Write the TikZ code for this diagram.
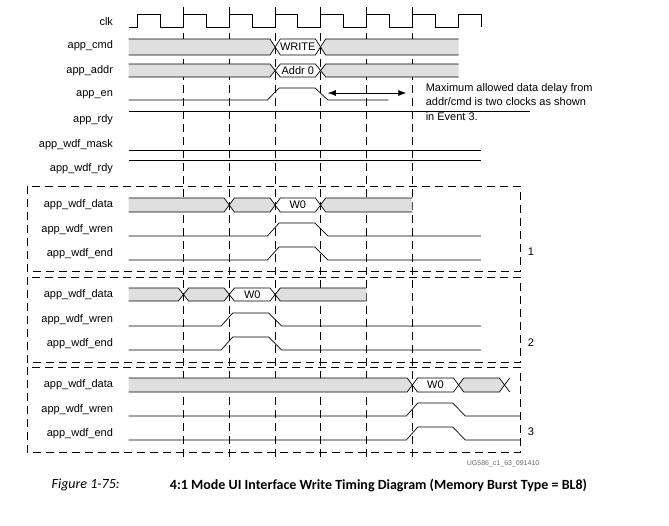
\documentclass[tikz,border=0pt]{standalone}
\usepackage{fontspec}
\setmainfont{Liberation Sans}
\newfontfamily\capfont{Carlito}
\usetikzlibrary{arrows.meta}
\tikzset{
  sig/.style={line width=0.7pt},
  lbl/.style={anchor=east,font=\fontsize{11}{13}\selectfont,inner sep=0pt},
  txt/.style={font=\fontsize{11}{13}\selectfont,inner sep=0pt},
  grid/.style={dash pattern=on 8pt off 5pt,line width=0.8pt},
  box/.style={dash pattern=on 8pt off 5pt,line width=0.8pt},
  busfill/.style={fill=gray!25},
}
\newcommand\hseg[5][busfill]{\filldraw[sig,#1] (#2,#4) -- ({#2+4},{#4-#5}) -- ({#3-4},{#4-#5}) -- (#3,#4) -- ({#3-4},{#4+#5}) -- ({#2+4},{#4+#5}) -- cycle;}
\newcommand\sseg[4]{\fill[busfill] (#1,{#3-#4}) -- ({#2-4},{#3-#4}) -- (#2,#3) -- ({#2-4},{#3+#4}) -- (#1,{#3+#4}) -- cycle;
 \draw[sig] (#1,{#3-#4}) -- ({#2-4},{#3-#4}) -- (#2,#3) -- ({#2-4},{#3+#4}) -- (#1,{#3+#4});}
\newcommand\eseg[4]{\fill[busfill] (#2,{#3-#4}) -- ({#1+4},{#3-#4}) -- (#1,#3) -- ({#1+4},{#3+#4}) -- (#2,{#3+#4}) -- cycle;
 \draw[sig] (#2,{#3-#4}) -- ({#1+4},{#3-#4}) -- (#1,#3) -- ({#1+4},{#3+#4}) -- (#2,{#3+#4});}
\newcommand\pulse[5]{\draw[sig] (100,#1) -- (#3,#1) -- ({#3+9},#2) -- (#4,#2) -- ({#4+10},#1) -- (#5,#1);}
\begin{document}
\begin{tikzpicture}[x=1.2857pt,y=-1pt]
\useasboundingbox (0,0) rectangle (520.33,525);
\foreach \gx in {142.7,178.3,214,249.3,285,320.7}
  \draw[grid] (\gx,7) -- (\gx,462);
\node[lbl] (lclk) at (88,22) {clk};
\node[lbl] (lcmd) at (88,46) {app\_cmd};
\node[lbl] (laddr) at (88,71) {app\_addr};
\node[lbl] (len) at (88,95) {app\_en};
\node[lbl] (lrdy) at (88,120) {app\_rdy};
\node[lbl] (lmask) at (88,145) {app\_wdf\_mask};
\node[lbl] (lwrdy) at (88,169) {app\_wdf\_rdy};
\draw[sig] (100,27) \foreach \k in {0,...,7} { -- ({106.7+35.7*\k},27) -- ({106.7+35.7*\k},14) -- ({124.5+35.7*\k},14) -- ({124.5+35.7*\k},27) } -- (124.5+35.7*7,27);
\sseg{100}{214}{47}{8}
\hseg[fill=white]{214}{249.3}{47}{8}
\eseg{249.3}{356.7}{47}{8}
\node[txt] (wr) at (231.6,47) {WRITE};
\sseg{100}{214}{70.5}{6.5}
\hseg[fill=white]{214}{249.3}{70.5}{6.5}
\eseg{249.3}{356.7}{70.5}{6.5}
\node[txt] (ad) at (231.6,70.5) {Addr 0};
\pulse{100}{88}{208}{245}{302}
\coordinate (a1) at (255,93);
\coordinate (a2) at (316,93);
\draw[sig,{Latex[length=8pt,width=6pt]}-{Latex[length=8pt,width=6pt]}] (a1) -- (a2);
\node[anchor=north west,align=left,font=\fontsize{11}{14.5}\selectfont,inner sep=0pt] (note) at (331,83) {Maximum allowed data delay from\\addr/cmd is two clocks as shown\\in Event 3.};
\draw[sig] (100,111) -- (412,111);
\draw[sig] (100,150) -- (374,150);
\draw[sig] (100,160) -- (374,160);
\draw[box] (21,186) rectangle (405,271);
\draw[box] (21,277) rectangle (405,362);
\draw[box] (21,367) rectangle (405,452);
\node[txt] (n1) at (413,252) {1};
\node[txt] (n2) at (413,343) {2};
\node[txt] (n3) at (413,432) {3};
\node[lbl] (d1) at (88,205) {app\_wdf\_data};
\node[lbl] (w1) at (88,230) {app\_wdf\_wren};
\node[lbl] (e1) at (88,254) {app\_wdf\_end};
\sseg{100}{178.3}{205}{7}
\hseg{178.3}{214}{205}{7}
\hseg[fill=white]{214}{249.3}{205}{7}
\eseg{249.3}{320.7}{205}{7}
\node[txt] (w01) at (231.6,205) {W0};
\pulse{236}{223}{208}{245}{374}
\pulse{260}{247}{208}{245}{374}
\node[lbl] (d2) at (88,294.5) {app\_wdf\_data};
\node[lbl] (w2) at (88,320) {app\_wdf\_wren};
\node[lbl] (e2) at (88,344) {app\_wdf\_end};
\sseg{100}{142.7}{294.5}{6.5}
\hseg{142.7}{178.3}{294.5}{6.5}
\hseg[fill=white]{178.3}{214}{294.5}{6.5}
\eseg{214}{285}{294.5}{6.5}
\node[txt] (w02) at (196.2,294.5) {W0};
\pulse{326}{313}{172}{209}{374}
\pulse{350}{337}{172}{209}{374}
\node[lbl] (d3) at (88,385) {app\_wdf\_data};
\node[lbl] (w3) at (88,410) {app\_wdf\_wren};
\node[lbl] (e3) at (88,434) {app\_wdf\_end};
\sseg{100}{320.7}{385}{7}
\hseg[fill=white]{320.7}{356.7}{385}{7}
\hseg{356.7}{392.4}{385}{7}
\draw[sig] (392.4,385) -- (396.4,378) (392.4,385) -- (396.4,392);
\node[txt] (w03) at (338.7,385) {W0};
\pulse{416}{403}{316}{352}{405}
\pulse{440}{427}{316}{352}{405}
\node[anchor=west,font=\fontsize{7}{8}\selectfont,inner sep=0pt,text=gray!80!black] (code) at (363,464) {UG586\_c1\_63\_091410};
\node[anchor=west,inner sep=0pt,font=\capfont\fontsize{14}{16}\selectfont\itshape] (fig) at (40,485) {Figure 1-75:};
\node[anchor=west,inner sep=0pt,font=\capfont\fontsize{14}{16}\selectfont\bfseries] (cap) at (132,485) {4:1 Mode UI Interface Write Timing Diagram (Memory Burst Type = BL8)};
\end{tikzpicture}
\end{document}
